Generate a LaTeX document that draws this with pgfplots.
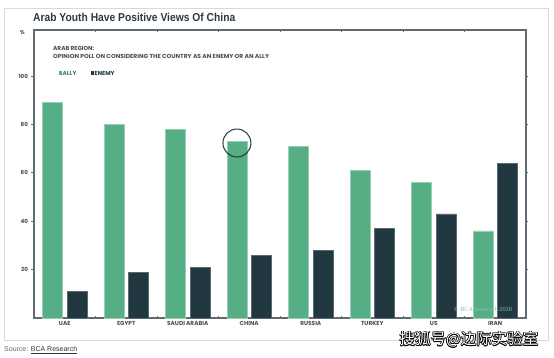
\documentclass[border=0pt]{standalone}
\usepackage{fontspec}
\usepackage{pgfplots}
\pgfplotsset{compat=1.18}
\setmainfont{Poppins}
\newfontfamily\titlefont{Liberation Sans}
\newfontfamily\srcfont{Liberation Sans}
\newfontfamily\cjk{Noto Sans CJK SC}
\newfontfamily\serifc{Liberation Serif}
\definecolor{ally}{HTML}{56AE85}
\definecolor{enemy}{HTML}{213840}
\definecolor{axisc}{HTML}{5E6B72}
\definecolor{lab}{HTML}{4A4F55}
\definecolor{titlec}{HTML}{2D3A40}
\newcommand{\wm}{\cjk\fontsize{15.5}{15.5}\selectfont 搜狐号@边际实验室}
\begin{document}
\begin{tikzpicture}
\path[use as bounding box, fill=white] (0pt,0pt) rectangle (554pt,357pt);
\draw[black!15, line width=0.8pt] (4pt,17pt) rectangle (548pt,349pt);
\begin{axis}[
  at={(34pt,39pt)}, anchor=south west,
  scale only axis, width=492pt, height=288pt,
  xmin=-0.5, xmax=7.5, ymin=0, ymax=119,
  ybar, bar width=0.32,
  axis line style={draw=axisc, line width=1.1pt},
  xtick={-0.5,0.5,...,7.5},
  x tick label as interval,
  xticklabels={UAE,EGYPT,SAUDI ARABIA,CHINA,RUSSIA,TURKEY,US,IRAN},
  x tick label style={font=\bfseries\fontsize{5.8}{7}\selectfont, text=lab},
  ytick={20,40,60,80,100},
  y tick label style={font=\bfseries\fontsize{5.6}{7}\selectfont, text=lab},
  /pgf/number format/assume math mode=true,
  x tick style={draw=axisc, line width=0.9pt},
  y tick style={draw=axisc, line width=0.9pt},
  xtick align=inside, ytick align=outside,
  major tick length=2.5pt,
  clip=false,
]
\addplot[fill=ally, draw=ally!60!white, line width=0.5pt, bar shift=-0.2] coordinates {(0,89)(1,80)(2,78)(3,73)(4,71)(5,61)(6,56)(7,36)};
\addplot[fill=enemy, draw=enemy!75!white, line width=0.5pt, bar shift=0.2] coordinates {(0,11)(1,19)(2,21)(3,26)(4,28)(5,37)(6,43)(7,64)};
\draw[enemy, line width=1pt] (axis cs:2.8,72.3) circle[radius=14pt];
\end{axis}
% title
\node[anchor=west, inner sep=0pt, text=titlec] at (33pt,340pt) {\scalebox{0.895}[1]{\titlefont\bfseries\fontsize{11.5}{12}\selectfont Arab Youth Have Positive Views Of China}};
\node[anchor=east, inner sep=0pt, text=lab, font=\bfseries\fontsize{5.6}{6}\selectfont] at (25pt,324pt) {\%};
\node[anchor=west, inner sep=0pt, text=lab, font=\bfseries\fontsize{5.8}{6}\selectfont] at (53pt,309pt) {ARAB REGION:};
\node[anchor=west, inner sep=0pt, text=lab, font=\bfseries\fontsize{5.8}{6}\selectfont] at (53pt,300.5pt) {\scalebox{1.04}[1]{OPINION POLL ON CONSIDERING THE COUNTRY AS AN ENEMY OR AN ALLY}};
% legend
\fill[ally] (58.5pt,282.3pt) rectangle +(3.5pt,3.5pt);
\node[anchor=west, inner sep=0pt, text=ally!70!black, font=\bfseries\fontsize{5.8}{6}\selectfont] at (62.5pt,284pt) {ALLY};
\fill[enemy] (90.5pt,282.3pt) rectangle +(3.5pt,3.5pt);
\node[anchor=west, inner sep=0pt, text=enemy, font=\bfseries\fontsize{5.8}{6}\selectfont] at (94.5pt,284pt) {ENEMY};
% copyright
\node[anchor=center, inner sep=0pt, text=ally!75!white, font=\serifc\fontsize{6.3}{6}\selectfont] at (483pt,48pt) {© BCA Research 2020};
% source
\node[anchor=west, inner sep=0pt, font=\srcfont\fontsize{7}{7}\selectfont] at (4pt,7pt) {\textcolor{black!60}{Source:} \textcolor{black!80}{\underline{BCA Research}}};
% watermark with outline
\foreach \dx/\dy in {-0.7/0,0.7/0,0/-0.7,0/0.7,-0.5/-0.5,0.5/0.5,-0.5/0.5,0.5/-0.5}{
  \node[anchor=center, inner sep=0pt, text=black] at (469pt+\dx pt,17.5pt+\dy pt) {\wm};
}
\node[anchor=center, inner sep=0pt, text=white] at (469pt,17.5pt) {\wm};
\end{tikzpicture}
\end{document}
